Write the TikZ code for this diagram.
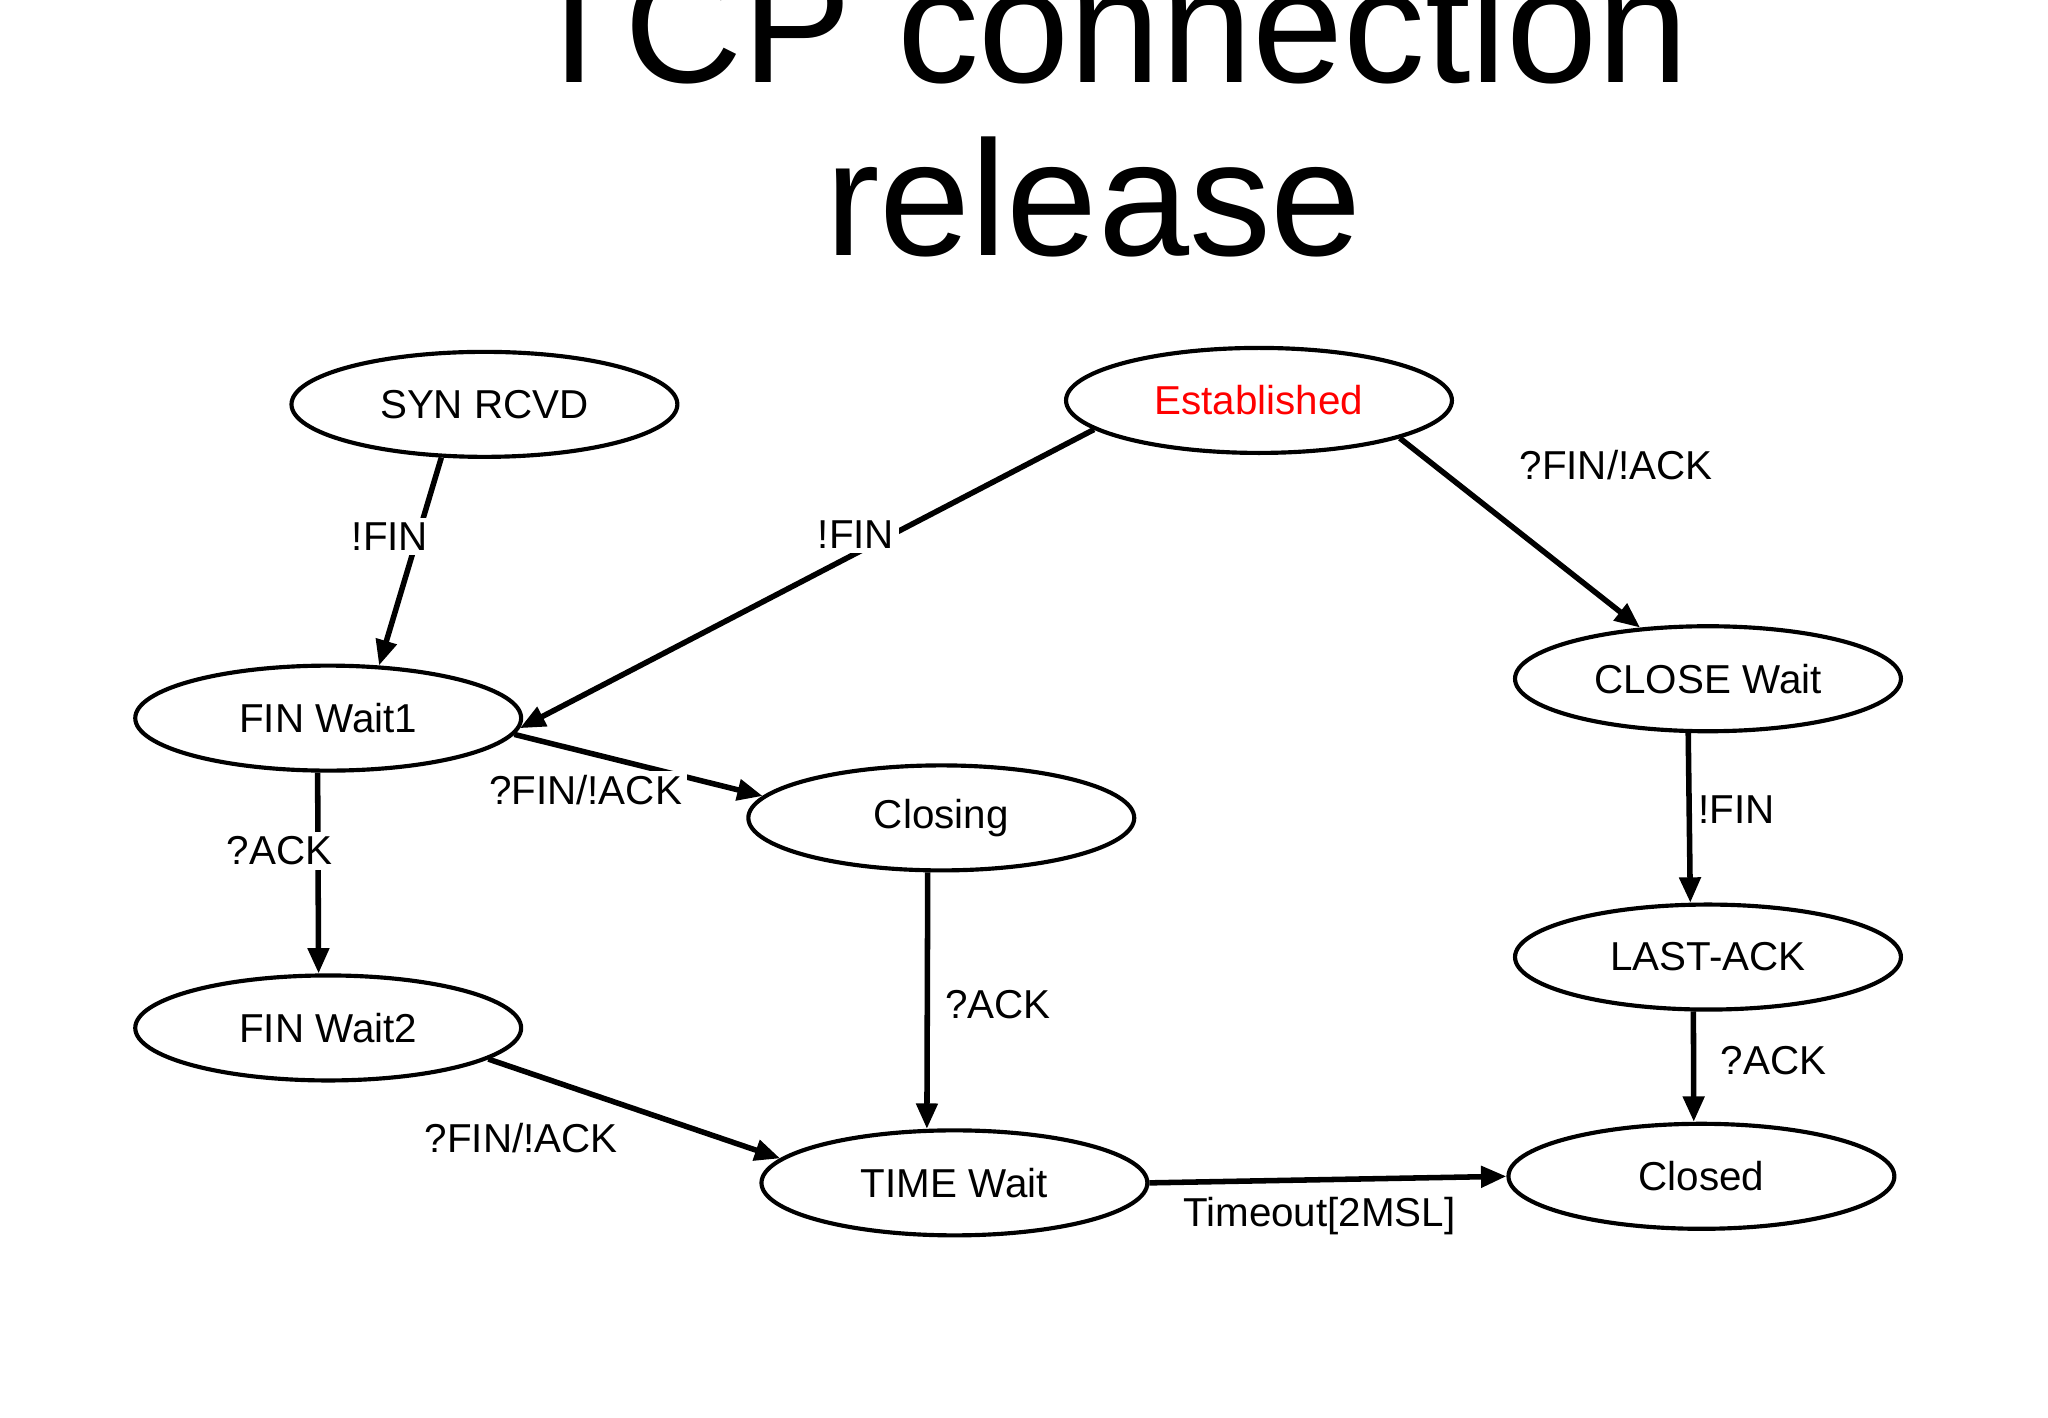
\documentclass[tikz,border=0pt]{standalone}
\usepackage{fontspec}
\setmainfont{Liberation Sans}
\usetikzlibrary{shapes.geometric,arrows.meta}
\begin{document}
\begin{tikzpicture}[x=0.02cm,y=-0.02cm,
  st/.style={ellipse,draw,line width=1.8pt,minimum width=5.88cm,minimum height=1.6cm,inner sep=0pt,font=\fontsize{17.5}{20}\selectfont},
  ed/.style={line width=2.4pt,-{Triangle[length=11pt,width=9pt]}},
  lb/.style={font=\fontsize{17.5}{20}\selectfont,inner sep=2pt},
  wl/.style={lb,fill=white}]
\useasboundingbox (0,0) rectangle (1560,1080);
\node[font=\fontsize{71}{80}\selectfont] (t1) at (843,18) {TCP connection};
\node[font=\fontsize{71}{80}\selectfont] (t2) at (833,150) {release};
\node[st] (syn) at (369,308) {SYN RCVD};
\node[st,text=red] (est) at (959,305) {Established};
\node[st] (fw1) at (250,547) {FIN Wait1};
\node[st] (cl) at (717,623) {Closing};
\node[st] (cw) at (1301,517) {CLOSE Wait};
\node[st] (la) at (1301,729) {LAST-ACK};
\node[st] (fw2) at (250,783) {FIN Wait2};
\node[st] (tw) at (727,901) {TIME Wait};
\node[st] (cd) at (1296,896) {Closed};
\draw[ed] (syn.-129) -- (fw1.46);
\node[wl] (l1) at (297,409) {!FIN};
\draw[ed] (est.-170) -- (fw1.-3);
\node[wl] (l2) at (652,407) {!FIN};
\draw[ed] (est.-15) -- (cw.143);
\node[lb] (l3) at (1231,354) {?FIN/!ACK};
\draw[ed] (fw1.-5) -- (cl.173);
\node[wl] (l4) at (446,602) {?FIN/!ACK};
\draw[ed] (fw1.-101) -- (fw2.100);
\node[wl] (l5) at (213,648) {?ACK};
\draw[ed] (cl.-104) -- (tw.117);
\node[lb] (l6) at (760,765) {?ACK};
\draw[ed] (fw2.-11) -- (tw.172);
\node[lb] (l7) at (397,867) {?FIN/!ACK};
\draw[ed] (tw.east) -- (cd.west);
\node[lb] (l8) at (1005,926) {Timeout[2MSL]};
\draw[ed] (cw.-110) -- (la.108);
\node[lb] (l9) at (1323,617) {!FIN};
\draw[ed] (la.-105) -- (cd.98);
\node[lb] (l10) at (1351,808) {?ACK};
\end{tikzpicture}
\end{document}
